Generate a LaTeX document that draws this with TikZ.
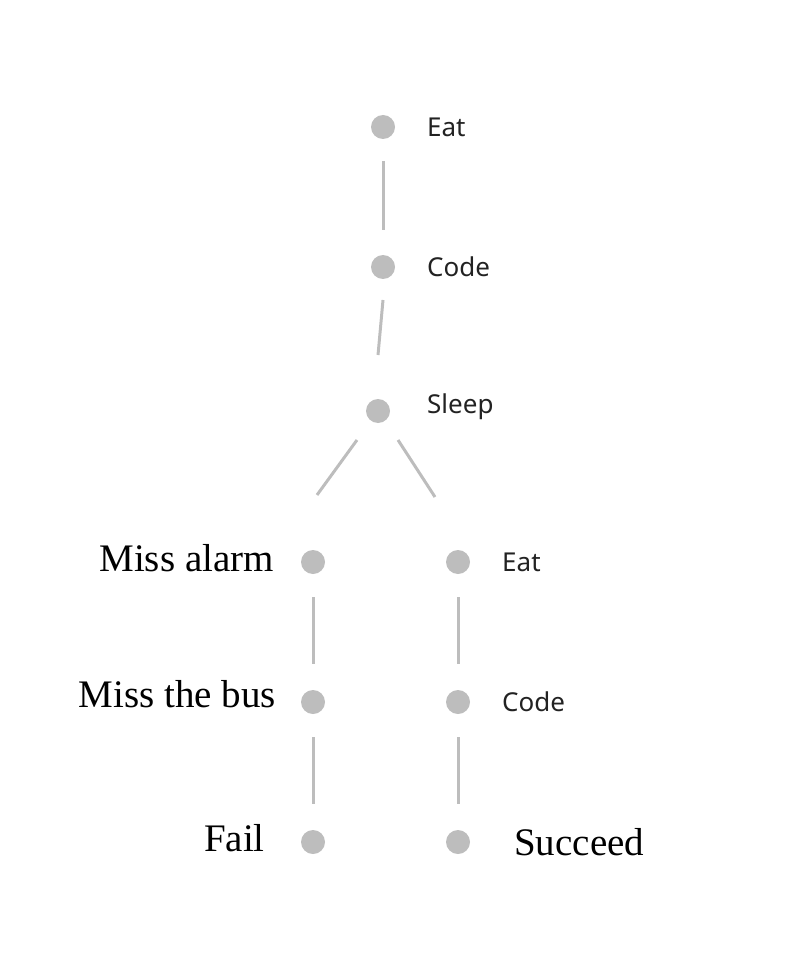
\documentclass[tikz,border=0pt]{standalone}
\usepackage{fontspec}
\setmainfont{Liberation Serif}
\newfontfamily\lblfont{Noto Sans}
\definecolor{dotc}{HTML}{BDBDBD}
\definecolor{txt}{HTML}{222222}
\begin{document}
\begin{tikzpicture}[x=1pt,y=-1pt,
  dot/.style={circle,fill=dotc,minimum size=24pt,inner sep=0pt},
  conn/.style={draw=dotc,line width=3pt},
  sl/.style={anchor=west,font=\lblfont\fontsize{26}{30}\selectfont,text=txt,inner sep=0pt},
  sr/.style={font=\fontsize{39}{44}\selectfont,text=black,inner sep=0pt}]
\path[use as bounding box] (0,0) rectangle (811,957);
\node[dot] (a1) at (383,127) {};
\node[dot] (a2) at (383,267) {};
\node[dot] (a3) at (378,411) {};
\node[dot] (l1) at (313,562) {};
\node[dot] (l2) at (313,702) {};
\node[dot] (l3) at (313,842) {};
\node[dot] (r1) at (458,562) {};
\node[dot] (r2) at (458,702) {};
\node[dot] (r3) at (458,842) {};
\node[sl] (ta1) at (427,127) {Eat};
\node[sl] (ta2) at (427,267) {Code};
\node[sl] (ta3) at (427,407) {Sleep};
\node[sl] (tr1) at (502,562) {Eat};
\node[sl] (tr2) at (502,702) {Code};
\node[sr,anchor=east] (tl1) at (274,558) {Miss alarm};
\node[sr,anchor=east] (tl2) at (276,694) {Miss the bus};
\node[sr,anchor=east] (tl3) at (265,838) {Fail};
\node[sr,anchor=west] (tr3) at (514,842) {Succeed};
\draw[conn] ([shift={(0,34)}]a1.center) -- ([shift={(0,-37)}]a2.center);
\draw[conn] ([shift={(0,33)}]a2.center) -- ([shift={(0,-56)}]a3.center);
\draw[conn] ([shift={(-21,29)}]a3.center) -- ([shift={(-61,84)}]a3.center);
\draw[conn] ([shift={(20,29)}]a3.center) -- ([shift={(57,86)}]a3.center);
\draw[conn] ([shift={(0,35)}]l1.center) -- ([shift={(0,-38)}]l2.center);
\draw[conn] ([shift={(0,35)}]l2.center) -- ([shift={(0,-38)}]l3.center);
\draw[conn] ([shift={(0,35)}]r1.center) -- ([shift={(0,-38)}]r2.center);
\draw[conn] ([shift={(0,35)}]r2.center) -- ([shift={(0,-38)}]r3.center);
\end{tikzpicture}
\end{document}
